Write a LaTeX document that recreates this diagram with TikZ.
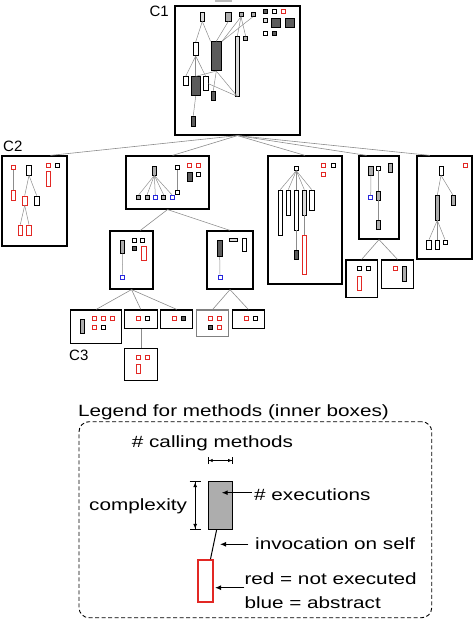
\documentclass[tikz,border=0pt]{standalone}
\usepackage{fontspec}
\setmainfont{Liberation Sans}
\newfontfamily\legfont{Liberation Sans}[FakeStretch=1.27]
\usetikzlibrary{calc, fit, arrows.meta}

\definecolor{methlight}{gray}{0.86}
\definecolor{methmid}{gray}{0.68}
\definecolor{methdark}{gray}{0.36}
\definecolor{notexec}{RGB}{226,40,36}
\definecolor{abstr}{RGB}{40,40,220}
\definecolor{calledge}{gray}{0.55}

\begin{document}
\begin{tikzpicture}[x=1pt, y=-1pt,
  class node/.style={draw, line width=1.2pt, inner sep=0pt},
  method node/.style={draw, line width=0.8pt, inner sep=0pt, minimum width=4.6pt, fill=white},
  small node/.style={draw, line width=0.8pt, inner sep=0pt, minimum size=4pt, fill=white},
  red node/.style={draw=notexec},
  blue node/.style={draw=abstr},
  call/.style={every edge/.style={draw=calledge, line width=0.5pt}},
  tree/.style={every edge/.style={draw=calledge, line width=0.6pt}},
  class label/.style={font=\fontsize{15}{18}\selectfont, inner sep=0pt},
  legend text/.style={font=\legfont\fontsize{16.3}{19}\selectfont, inner sep=0pt, anchor=base west},
  pointer/.style={-{Latex[length=6pt,width=5pt]}, line width=1.1pt},
  dim line/.style={line width=0.9pt}]

 \useasboundingbox (0,0) rectangle (474,620);

 % top class
 \node[fill=calledge!60, inner sep=0pt, fit={(215,0) (232,2.5)}] (C0) {};
 \node[class node, fit={(175,6) (300,135)}] (C1) {};
 \node[class label, anchor=east] (C1lab) at (169,11) {C1};

 \node[method node, fill=methlight, minimum width=4pt, minimum height=8.7pt] (a1) at (202.3,16.7) {};
 \node[method node, fill=methmid, minimum width=5.3pt, minimum height=8.7pt] (a2) at (228.3,16.7) {};
 \node[small node, fill=methmid] (a3) at (241,14.3) {};
 \node[small node, fill=methmid] (a4) at (253,14.3) {};
 \node[small node, fill=methdark] (a5) at (265.3,11) {};
 \node[small node] (a6) at (274.3,11) {};
 \node[small node, red node] (a7) at (283,11) {};
 \node[small node, fill=methlight] (a8) at (265.3,20.3) {};
 \node[small node, fill=methdark, minimum size=9pt] (a9) at (276,22.8) {};
 \node[small node, fill=methdark, minimum size=9pt] (a10) at (289.7,22.8) {};
 \node[small node] (a11) at (265.3,33.7) {};
 \node[small node, fill=methdark] (a12) at (274.3,33.7) {};
 \node[method node, minimum height=13.4pt] (b1) at (195.7,49) {};
 \node[method node, fill=methdark, minimum width=10.7pt, minimum height=29pt] (b2) at (216.3,56.2) {};
 \node[method node, fill=methlight, minimum height=59.3pt] (b3) at (237.3,66.3) {};
 \node[small node, fill=methmid] (b4) at (245.7,38.7) {};
 \node[method node, minimum height=9pt] (c1) at (185.7,81.2) {};
 \node[method node, fill=methdark, minimum width=9.3pt, minimum height=19pt] (c2) at (195.7,86.2) {};
 \node[method node, minimum height=14pt] (c3) at (205.7,83.7) {};
 \node[method node, fill=methdark, minimum height=9.7pt] (c4) at (213.3,95.8) {};
 \node[method node, fill=methdark, minimum height=10pt] (d1) at (193.3,121) {};

 \path[call]
 (a1.south) edge (b1.north)
            edge (b2.north west)
 (a2.south) edge (b2.north)
 (a3.south) edge (b3.north)
            edge (b4.north)
            edge (b2.north east)
 (a4.south) edge (b2.north east)
 (b1.south) edge (c1.north)
            edge (c2.north)
            edge (c3.north)
 (b2.south) edge (c2.north)
            edge (c4.north)
            edge (b3.south)
 (c3.east) edge (b3.south)
 (c2.south) edge (d1.north);

 % second row
 \node[class node, fit={(2,156) (67,246)}] (C2) {};
 \node[class node, fit={(126,156) (209,209)}] (k22) {};
 \node[class node, fit={(268,156) (342,284)}] (k23) {};
 \node[class node, fit={(359,156) (399,239)}] (k24) {};
 \node[class node, fit={(417,156) (472,259)}] (k25) {};
 \node[class label, anchor=west] (C2lab) at (3,146) {C2};

 \coordinate (in2) at ($(C2.north west)!0.74!(C2.north east)$);
 \coordinate (in22) at ($(k22.north west)!0.56!(k22.north east)$);
 \coordinate (in24) at ($(k24.north west)!0.2!(k24.north east)$);
 \coordinate (in25) at ($(k25.north west)!0.24!(k25.north east)$);
 \path[tree]
 (C1.south) edge (in2)
            edge (in22)
            edge (k23.north)
            edge (in24)
            edge (in25);

 \node[small node, red node] (p1) at (13,167.7) {};
 \node[method node, red node, minimum width=4pt, minimum height=10pt] (p2) at (13,195) {};
 \node[method node, minimum height=9.3pt] (p3) at (29,170.3) {};
 \node[method node, red node, minimum height=9pt] (p4) at (24.7,200.5) {};
 \node[method node, minimum height=9pt] (p5) at (36.7,200.5) {};
 \node[method node, red node, minimum width=4pt, minimum height=10pt] (p6) at (20.3,230) {};
 \node[method node, red node, minimum height=10pt] (p7) at (29,230) {};
 \node[small node, red node] (p8) at (48.7,165.3) {};
 \node[small node] (p9) at (57.7,165.3) {};
 \node[method node, red node, minimum width=4pt, minimum height=14.3pt] (p10) at (48.7,178.8) {};
 \path[call]
 (p1.south) edge (p2.north)
 (p3.south) edge (p4.north)
            edge (p5.north)
 (p4.south) edge (p6.north)
            edge (p7.north);

 \node[method node, fill=methmid, minimum width=4pt, minimum height=9pt] (q1) at (154.3,170.5) {};
 \node[small node, fill=methmid] (q2) at (138.7,197.3) {};
 \node[small node, fill=methmid] (q3) at (147,197.3) {};
 \node[small node, blue node] (q4) at (155.3,197.3) {};
 \node[small node, fill=methmid] (q5) at (163.7,197.3) {};
 \node[small node, blue node] (q6) at (172,197.3) {};
 \node[small node] (q7) at (177.7,167.7) {};
 \node[small node] (q8) at (177.7,192) {};
 \node[small node, red node] (q9) at (189.7,165.3) {};
 \node[small node, red node] (q10) at (198.7,165.3) {};
 \node[method node, fill=methdark, minimum height=8.7pt] (q11) at (190,176.7) {};
 \node[small node] (q12) at (198.7,174.3) {};
 \path[call]
 (q1.south) edge (q2.north)
            edge (q3.north)
            edge (q4.north)
            edge (q5.north)
            edge (q6.north)
 (q7.south) edge (q8.north);

 \node[small node] (r1) at (296.3,168.3) {};
 \node[method node, minimum height=45pt] (r2) at (280.3,212.5) {};
 \node[method node, minimum height=25pt] (r3) at (288.3,202.5) {};
 \node[method node, minimum height=40pt] (r4) at (296.3,210) {};
 \node[method node, fill=methlight, minimum height=25pt] (r5) at (304.3,202.5) {};
 \node[method node, minimum height=20pt] (r6) at (311.7,200) {};
 \node[method node, fill=methdark, minimum height=9.3pt] (r7) at (296.3,254.7) {};
 \node[method node, red node, minimum height=38.6pt] (r8) at (304.3,255) {};
 \node[small node, red node] (r9) at (323.7,165) {};
 \node[small node] (r10) at (333,165) {};
 \node[small node, red node] (r11) at (323.7,174) {};
 \path[call]
 (r1.south) edge (r2.north)
            edge (r3.north)
            edge (r4.north)
            edge (r5.north)
            edge (r6.north)
 (r4.south) edge (r7.north)
 (r5.south) edge (r8.north);

 \node[method node, fill=methmid, minimum height=9pt] (s1) at (371,170.5) {};
 \node[small node, blue node] (s2) at (370.7,197.7) {};
 \node[small node] (s3) at (378.7,168) {};
 \node[method node, fill=methmid, minimum width=4pt, minimum height=9pt] (s4) at (378.7,195.5) {};
 \node[method node, fill=methmid, minimum width=4pt, minimum height=9.3pt] (s5) at (378.7,224.7) {};
 \node[method node, fill=methmid, minimum width=4pt, minimum height=9pt] (s6) at (390.7,167.8) {};
 \path[call]
 (s1.south) edge (s2.north)
 (s3.south) edge (s4.north)
 (s4.south) edge (s5.north);

 \node[method node, minimum width=4pt, minimum height=9pt] (t1) at (441,170.5) {};
 \node[method node, fill=methmid, minimum height=24.3pt] (t2) at (437.3,207.8) {};
 \node[method node, fill=methmid, minimum width=4pt, minimum height=9.3pt] (t3) at (453,200.3) {};
 \node[method node, minimum height=9.3pt] (t4) at (429,244.7) {};
 \node[method node, minimum height=9.3pt] (t5) at (437.3,244.7) {};
 \node[small node] (t6) at (445,242) {};
 \node[small node, red node] (t7) at (465.3,165) {};
 \path[call]
 (t1.south) edge (t2.north)
            edge (t3.north)
 (t2.south) edge (t4.north)
            edge (t5.north)
            edge (t6.north);

 % third row
 \node[class node, fit={(110,231) (153,289)}] (k31) {};
 \node[class node, fit={(207,231) (253,289)}] (k32) {};
 \coordinate (in31) at ($(k31.north west)!0.7!(k31.north east)$);
 \path[tree]
 (k22.south) edge (in31)
             edge (k32.north);

 \node[method node, fill=methmid, minimum height=12.6pt] (u1) at (122.3,247) {};
 \node[small node, blue node] (u2) at (122.7,277) {};
 \node[small node] (u3) at (134.3,240.3) {};
 \node[small node] (u4) at (142.7,240.3) {};
 \node[small node, fill=methdark] (u5) at (134.3,248.7) {};
 \node[method node, red node, minimum height=13.3pt] (u6) at (144,253.3) {};
 \path[call] (u1.south) edge (u2.north);

 \node[method node, fill=methdark, minimum height=16pt] (v1) at (219.7,248.7) {};
 \node[small node, blue node] (v2) at (220,277) {};
 \node[method node, fill=methlight, minimum width=8pt, minimum height=3.4pt] (v3) at (233.3,240) {};
 \node[method node, minimum height=13.4pt] (v4) at (244.3,245) {};
 \path[call] (v1.south) edge (v2.north);

 % fourth row
 \node[class node, fit={(70.7,310) (121.7,343.3)}] (C3) {};
 \node[class node, fit={(124.3,310) (157.3,328.3)}] (k42) {};
 \node[class node, fit={(160.7,310) (192.7,328.3)}] (k43) {};
 \node[class node, draw=gray, fit={(196.7,310) (228.7,336.7)}] (k44) {};
 \node[class node, fit={(232.3,310) (264.3,328.3)}] (k45) {};
 \node[class node, fit={(124.3,348.3) (157.3,380.7)}] (k46) {};
 \node[class label, anchor=west] (C3lab) at (69,355) {C3};
 \path[tree]
 (k31.south) edge (C3.north)
             edge (k42.north)
             edge (k43.north)
 (k32.south) edge (k44.north)
             edge (k45.north)
 (k42.south) edge (k46.north);

 \node[method node, fill=methmid, minimum height=14pt] (w1) at (82.3,326.3) {};
 \node[small node, red node] (w2) at (94.3,318.7) {};
 \node[small node, red node] (w3) at (103.7,318.7) {};
 \node[small node, red node] (w4) at (112,318.7) {};
 \node[small node, red node] (w5) at (94.3,327.7) {};
 \node[small node] (w6) at (103.7,327.7) {};
 \node[small node, red node] (x1) at (138.7,318.7) {};
 \node[small node] (x2) at (147.7,318.7) {};
 \node[small node, red node] (x3) at (174.7,318.7) {};
 \node[small node, fill=methdark] (x4) at (183.7,318.7) {};
 \node[small node, red node] (x5) at (210.3,318.7) {};
 \node[small node, red node] (x6) at (219.3,318.7) {};
 \node[small node, fill=methdark] (x7) at (210.3,327.7) {};
 \node[small node, red node] (x8) at (219.3,327.7) {};
 \node[small node, red node] (x9) at (246,318.7) {};
 \node[small node] (x10) at (255.3,318.7) {};
 \node[small node, red node] (y1) at (138.7,357.7) {};
 \node[small node, red node] (y2) at (147.7,357.7) {};
 \node[method node, red node, minimum width=4pt, minimum height=9.3pt] (y3) at (138.7,368.7) {};

 % below k24
 \node[class node, fit={(346,260) (377.3,297.3)}] (k51) {};
 \node[class node, fit={(381.7,260) (413.3,288.3)}] (k52) {};
 \path[tree]
 (k24.south) edge (k51.north)
             edge (k52.north);
 \node[small node] (z1) at (359,268.7) {};
 \node[small node] (z2) at (368,268.7) {};
 \node[method node, red node, minimum height=14pt] (z3) at (359.3,283) {};
 \node[small node, red node] (z4) at (395,268.7) {};
 \node[method node, fill=methmid, minimum width=4pt, minimum height=15pt] (z5) at (404.3,274.2) {};

 % legend
 \node[legend text] (legtitle) at (78,416.7) {Legend for methods (inner boxes)};
 \node[draw, dash pattern=on 4pt off 2.5pt, rounded corners=10pt, line width=0.9pt,
       inner sep=0pt, fit={(79,421.7) (431.7,617.7)}] (legbox) {};

 \node[method node, fill=methmid, line width=1pt, fit={(208.3,481.7) (232.5,529.3)}] (lm) {};
 \node[method node, draw=notexec, line width=1.7pt, fit={(198.3,560) (213.3,602.3)}] (lr) {};
 \coordinate (lmout) at ($(lm.south west)!0.35!(lm.south east)$);
 \coordinate (lrin) at ($(lr.north west)!0.78!(lr.north east)$);
 \draw[line width=1pt] (lmout) -- (lrin);

 \coordinate (dimhl) at ($(lm.north west)+(0,-20.7)$);
 \coordinate (dimhr) at ($(lm.north east)+(0,-20.7)$);
 \draw[dim line, {Bar[width=7pt]Latex[length=4pt,width=3.5pt]}-{Latex[length=4pt,width=3.5pt]Bar[width=7pt]}]
   (dimhl) -- (dimhr);
 \coordinate (dimvt) at ($(lm.north west)+(-12.6,0)$);
 \coordinate (dimvb) at ($(lm.south west)+(-12.6,0)$);
 \draw[dim line, {Bar[width=11pt]Latex[length=5pt,width=4pt]}-{Latex[length=5pt,width=4pt]Bar[width=11pt]}]
   (dimvt) -- (dimvb);

 \node[legend text] (lcall) at (131.7,447.3) {\# calling methods};
 \node[legend text] (lcomp) at (89,510) {complexity};
 \node[legend text] (lexe) at (254,500.7) {\# executions};
 \node[legend text] (linv) at (255,549.3) {invocation on self};
 \node[legend text] (lred) at (244.3,584.3) {red = not executed};
 \node[legend text] (lblue) at (244.3,608.3) {blue = abstract};

 \coordinate (pexe) at (221.7,492.7);
 \coordinate (pinv) at (220,544.3);
 \coordinate (pred) at (215,587.7);
 \draw[pointer, shorten <=2.3pt] (lexe.west |- pexe) -- (pexe);
 \draw[pointer, shorten <=6.7pt] (linv.west |- pinv) -- (pinv);
 \draw[pointer] (lred.west |- pred) -- (pred);

\end{tikzpicture}
\end{document}
